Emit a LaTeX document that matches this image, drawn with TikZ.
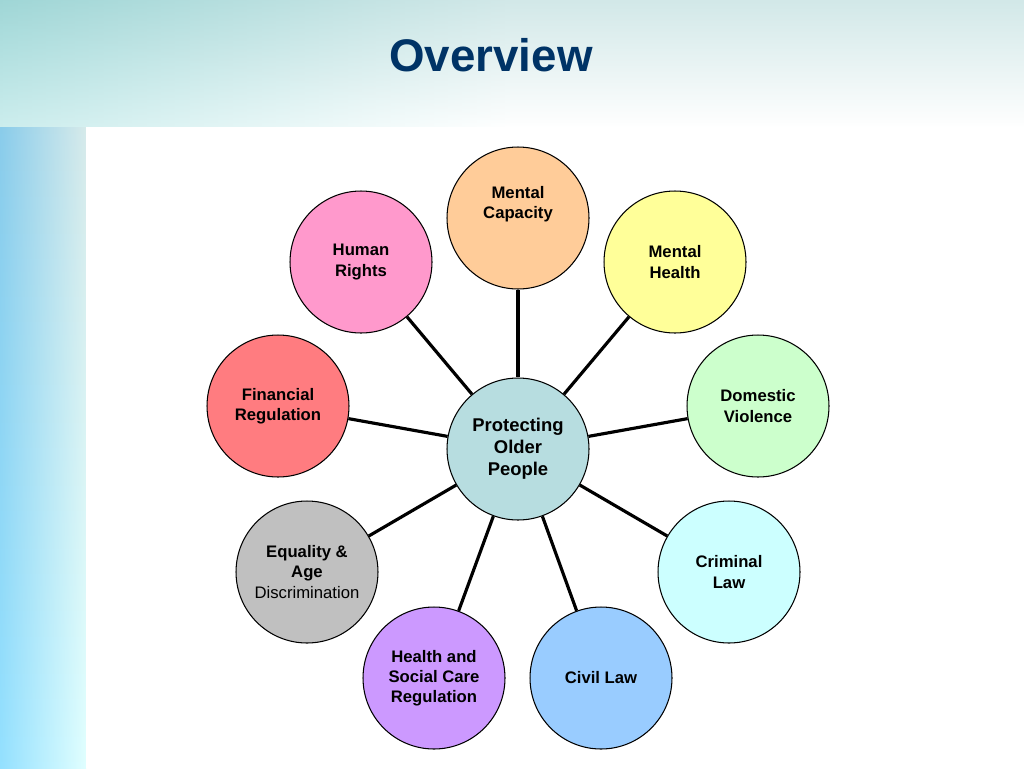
\documentclass[tikz,border=0pt]{standalone}
\usepackage{fontspec}
\setmainfont{Liberation Sans}
\begin{document}
\begin{tikzpicture}[x=0.02cm,y=-0.02cm,
 bub/.style={circle,draw=black,line width=0.6pt,minimum size=2.84cm,inner sep=0pt,align=center,font=\fontsize{9.5}{11.5}\selectfont\bfseries},
 spoke/.style={line width=1.8pt}]
\useasboundingbox (0,0) rectangle (1024,768);
\shade[left color=cyan!30!teal!40,right color=white,middle color=white] (0,0) rectangle (1024,127);
\shade[top color=teal!35,bottom color=white,opacity=0.5] (0,0) rectangle (1024,127);
\shade[left color=cyan!60!blue!50,right color=white] (0,127) rectangle (86,768);
\shade[top color=teal!40,bottom color=cyan!30,opacity=0.4] (0,127) rectangle (86,768);
\fill[white] (86,127) rectangle (1024,768);
\node[font=\fontsize{26}{30}\selectfont\bfseries,text={rgb,255:red,0;green,51;blue,102}] (title) at (491,55) {Overview};
\node[bub,fill={rgb,255:red,183;green,221;blue,224},font=\fontsize{10.5}{12.5}\selectfont\bfseries] (c) at (518,449) {Protecting\\Older\\People};
\node[bub,fill={rgb,255:red,255;green,204;blue,153}] (mc) at (518,218) {Mental\\Capacity\\[0.7em]};
\node[bub,fill={rgb,255:red,255;green,153;blue,204}] (hr) at (361,262) {Human\\Rights};
\node[bub,fill={rgb,255:red,255;green,255;blue,153}] (mh) at (675,262) {Mental\\Health};
\node[bub,fill={rgb,255:red,255;green,124;blue,128}] (fr) at (278,406) {Financial\\Regulation};
\node[bub,fill={rgb,255:red,204;green,255;blue,204}] (dv) at (758,406) {Domestic\\Violence};
\node[bub,fill={rgb,255:red,192;green,192;blue,192}] (eq) at (307,572) {Equality \&\\Age\\{\mdseries Discrimination}};
\node[bub,fill={rgb,255:red,204;green,255;blue,255}] (cl) at (729,572) {Criminal\\Law};
\node[bub,fill={rgb,255:red,204;green,153;blue,255}] (hs) at (434,678) {Health and\\Social Care\\Regulation};
\node[bub,fill={rgb,255:red,153;green,204;blue,255}] (cv) at (601,678) {Civil Law};
\foreach \n in {mc,hr,mh,fr,dv,eq,cl,hs,cv} \draw[spoke] (c) -- (\n);
\end{tikzpicture}
\end{document}
